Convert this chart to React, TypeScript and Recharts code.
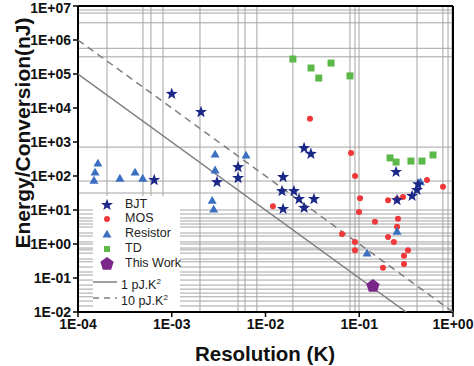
import React from "react";
import {
  ScatterChart,
  Scatter,
  XAxis,
  YAxis,
  ReferenceLine,
  Label,
} from "recharts";

// (log-log axes)
const bjtX = [1e-3, 2.05e-3, 6.5e-4, 3.04e-3, 5.1e-3, 5.1e-3, 0.0258, 0.0305, 0.0154, 0.015, 0.0201, 0.0228, 0.0329, 0.0258, 0.0154, 0.247, 0.253, 0.366, 0.413, 0.424];
const bjtY = [2.6e4, 7.6e3, 76, 66, 183, 87, 660, 447, 93, 36, 36, 21, 21, 11.5, 10.7, 131, 19.5, 25.8, 38.8, 57];

const mosX = [0.0298, 0.0817, 0.0902, 0.102, 0.0994, 0.147, 0.012, 0.0655, 0.09, 0.09, 0.203, 0.253, 0.293, 0.259, 0.253, 0.203, 0.234, 0.331, 0.3, 0.3, 0.179, 0.528, 0.782];
const mosY = [4800, 478, 100, 22, 8.7, 4.5, 13, 1.97, 1.15, 0.66, 19.5, 21, 24, 5.5, 3.2, 1.6, 1.15, 0.66, 0.45, 0.26, 0.2, 76, 48];

const resX = [1.63e-4, 1.52e-4, 1.48e-4, 2.8e-4, 4.06e-4, 4.9e-4, 2.9e-3, 2.9e-3, 2.7e-3, 2.8e-3, 6.2e-3, 0.253, 0.121, 0.45];
const resY = [241, 131, 76, 87, 131, 87, 447, 152, 19.5, 10.7, 415, 2.4, 0.55, 68];

const tdX = [0.0196, 0.0306, 0.05, 0.037, 0.0796, 0.213, 0.247, 0.356, 0.467, 0.612];
const tdY = [2.76e5, 1.5e5, 2.1e5, 7.6e4, 8.8e4, 340, 257, 275, 275, 415];

const thisX = [0.14];
const thisY = [0.058];

// FOM reference lines, end points
const fom1X = [1e-4, 0.3162];
const fom1Y = [1e5, 1e-2];
const fom10X = [1e-4, 1];
const fom10Y = [1e6, 1e-2];

const xTicks = [1e-4, 1e-3, 1e-2, 1e-1, 1];
const yTicks = [1e-2, 1e-1, 1, 10, 100, 1e3, 1e4, 1e5, 1e6, 1e7];

// the odd grid of the original figure
const vGrid = [2.04e-4, 4.93e-4, 6.0e-4, 8.07e-4, 2.0e-3, 5.1e-3, 6.04e-3, 8.1e-3, 0.0196, 0.0796, 0.09, 0.0994, 0.413, 0.78, 0.885, 0.975];
const hGrid = [7.6e6, 6.2e6, 3.2e6, 5.7e5, 3.2e5, 708, 71, 31.6, 10, 7.6, 5.8, 4.75, 3.87, 3.16, 2.1, 1.72, 1.15, 1.0, 0.76, 0.67, 0.54, 0.36, 0.3, 0.21, 0.15, 0.122, 0.087, 0.062, 0.047, 0.036, 0.028, 0.021, 0.015];

const zip = (xs: number[], ys: number[]) => xs.map((x, i) => ({ x, y: ys[i] }));

const FONT = '"Liberation Sans", Arial, sans-serif';
const C_BJT = "#1b2888";
const C_MOS = "#f0383a";
const C_RES = "#3b6fc0";
const C_TD = "#5db84a";
const C_THIS = "#7a2789";
const C_LINE = "#7f7f7f";
const C_GRID = "#a4a4a4";

function fmtPow(v: number) {
  const e = Math.round(Math.log10(v));
  return `1E${e < 0 ? "-" : "+"}${String(Math.abs(e)).padStart(2, "0")}`;
}

function starPts(cx: number, cy: number, ro: number, ri: number) {
  const pts: string[] = [];
  for (let i = 0; i < 10; i++) {
    const r = i % 2 ? ri : ro;
    const a = ((-90 + i * 36) * Math.PI) / 180;
    pts.push(`${cx + r * Math.cos(a)},${cy + r * Math.sin(a)}`);
  }
  return pts.join(" ");
}

function polyPts(cx: number, cy: number, r: number, n: number) {
  const pts: string[] = [];
  for (let i = 0; i < n; i++) {
    const a = ((-90 + (i * 360) / n) * Math.PI) / 180;
    pts.push(`${cx + r * Math.cos(a)},${cy + r * Math.sin(a)}`);
  }
  return pts.join(" ");
}

const StarShape = (p: any) =>
  p.cx == null ? <g /> : <polygon points={starPts(p.cx, p.cy, 6.3, 2.6)} fill={C_BJT} />;
const DotShape = (p: any) =>
  p.cx == null ? <g /> : <circle cx={p.cx} cy={p.cy} r={3} fill={C_MOS} />;
const TriShape = (p: any) =>
  p.cx == null ? <g /> : <polygon points={polyPts(p.cx, p.cy + 1, 5.2, 3)} fill={C_RES} />;
const SqShape = (p: any) =>
  p.cx == null ? <g /> : <rect x={p.cx - 3.5} y={p.cy - 3.5} width={7} height={7} fill={C_TD} />;
const PentShape = (p: any) =>
  p.cx == null ? <g /> : <polygon points={polyPts(p.cx, p.cy, 7, 5)} fill={C_THIS} />;
const NoShape = () => <g />;

function LegendBox() {
  const row = (icon: React.ReactNode, label: React.ReactNode, top: number, textLeft = 32) => (
    <div style={{ position: "absolute", left: 0, top, width: 87, height: 14 }}>
      <svg width={30} height={14} style={{ position: "absolute", left: 0, top: 0 }}>
        {icon}
      </svg>
      <span style={{ position: "absolute", left: textLeft, top: -1, fontSize: 12.5, lineHeight: "15px", color: "#222", whiteSpace: "nowrap" }}>
        {label}
      </span>
    </div>
  );
  return (
    <div style={{ position: "absolute", left: 93, top: 196, width: 87, height: 115, background: "#fff", fontFamily: FONT }}>
      {row(<polygon points={starPts(14, 7, 6.3, 2.6)} fill={C_BJT} />, "BJT", 2)}
      {row(<circle cx={14} cy={7} r={3} fill={C_MOS} />, "MOS", 16)}
      {row(<polygon points={polyPts(14, 8, 5.2, 3)} fill={C_RES} />, "Resistor", 31)}
      {row(<rect x={11} y={4} width={6} height={6} fill={C_TD} />, "TD", 46)}
      {row(<polygon points={polyPts(14, 7, 7, 5)} fill={C_THIS} />, "This Work", 61)}
      {row(<line x1={0} y1={7} x2={24} y2={7} stroke={C_LINE} strokeWidth={1.5} />, <>1 pJ.K<sup style={{ fontSize: 8 }}>2</sup></>, 79, 28)}
      {row(<line x1={0} y1={7} x2={24} y2={7} stroke={C_LINE} strokeWidth={1.5} strokeDasharray="6 5" />, <>10 pJ.K<sup style={{ fontSize: 8 }}>2</sup></>, 95, 28)}
    </div>
  );
}

export default function App() {
  const tickStyle = { fontSize: 14, fontWeight: 700, fill: "#111", fontFamily: FONT };
  return (
    <div style={{ position: "absolute", left: 0, top: 0, width: 474, height: 366, background: "#fff", fontFamily: FONT }}>
      <ScatterChart width={474} height={366} margin={{ top: 6, right: 21, left: 0, bottom: 0 }}>
        <XAxis
          type="number"
          dataKey="x"
          scale="log"
          domain={[1e-4, 1]}
          ticks={xTicks}
          tickFormatter={fmtPow}
          allowDataOverflow
          height={54}
          tick={tickStyle}
          tickSize={5}
          tickMargin={2}
          axisLine={{ stroke: "#000", strokeWidth: 2 }}
          tickLine={{ stroke: "#000", strokeWidth: 1.5 }}
        >
          <Label
            content={() => (
              <text x={265} y={361} textAnchor="middle" fontSize={20.5} fontWeight={700} fill="#111" fontFamily={FONT}>
                Resolution (K)
              </text>
            )}
          />
        </XAxis>
        <YAxis
          type="number"
          dataKey="y"
          scale="log"
          domain={[1e-2, 1e7]}
          ticks={yTicks}
          tickFormatter={fmtPow}
          allowDataOverflow
          width={78}
          tick={tickStyle}
          tickSize={5}
          tickMargin={2}
          axisLine={{ stroke: "#000", strokeWidth: 2 }}
          tickLine={{ stroke: "#000", strokeWidth: 1.5 }}
        >
          <Label
            content={() => (
              <text
                x={22}
                y={133}
                transform="rotate(-90 22 133)"
                textAnchor="middle"
                dominantBaseline="central"
                fontSize={21}
                fontWeight={700}
                fill="#111"
                fontFamily={FONT}
              >
                Energy/Conversion(nJ)
              </text>
            )}
          />
        </YAxis>

        {vGrid.map((v) => (
          <ReferenceLine key={`v${v}`} x={v} stroke={C_GRID} strokeWidth={1} />
        ))}
        {hGrid.map((v) => (
          <ReferenceLine key={`h${v}`} y={v} stroke={C_GRID} strokeWidth={1} />
        ))}
        <ReferenceLine y={1e7} stroke="#000" strokeWidth={2} />
        <ReferenceLine x={1} stroke="#000" strokeWidth={2} />

        <Scatter
          name="1 pJ.K2"
          data={zip(fom1X, fom1Y)}
          line={{ stroke: C_LINE, strokeWidth: 1.5 }}
          shape={NoShape}
          isAnimationActive={false}
        />
        <Scatter
          name="10 pJ.K2"
          data={zip(fom10X, fom10Y)}
          line={{ stroke: C_LINE, strokeWidth: 1.5, strokeDasharray: "7 5" }}
          shape={NoShape}
          isAnimationActive={false}
        />
        <Scatter name="TD" data={zip(tdX, tdY)} shape={SqShape} isAnimationActive={false} />
        <Scatter name="MOS" data={zip(mosX, mosY)} shape={DotShape} isAnimationActive={false} />
        <Scatter name="Resistor" data={zip(resX, resY)} shape={TriShape} isAnimationActive={false} />
        <Scatter name="BJT" data={zip(bjtX, bjtY)} shape={StarShape} isAnimationActive={false} />
        <Scatter name="This Work" data={zip(thisX, thisY)} shape={PentShape} isAnimationActive={false} />
      </ScatterChart>
      <LegendBox />
    </div>
  );
}
